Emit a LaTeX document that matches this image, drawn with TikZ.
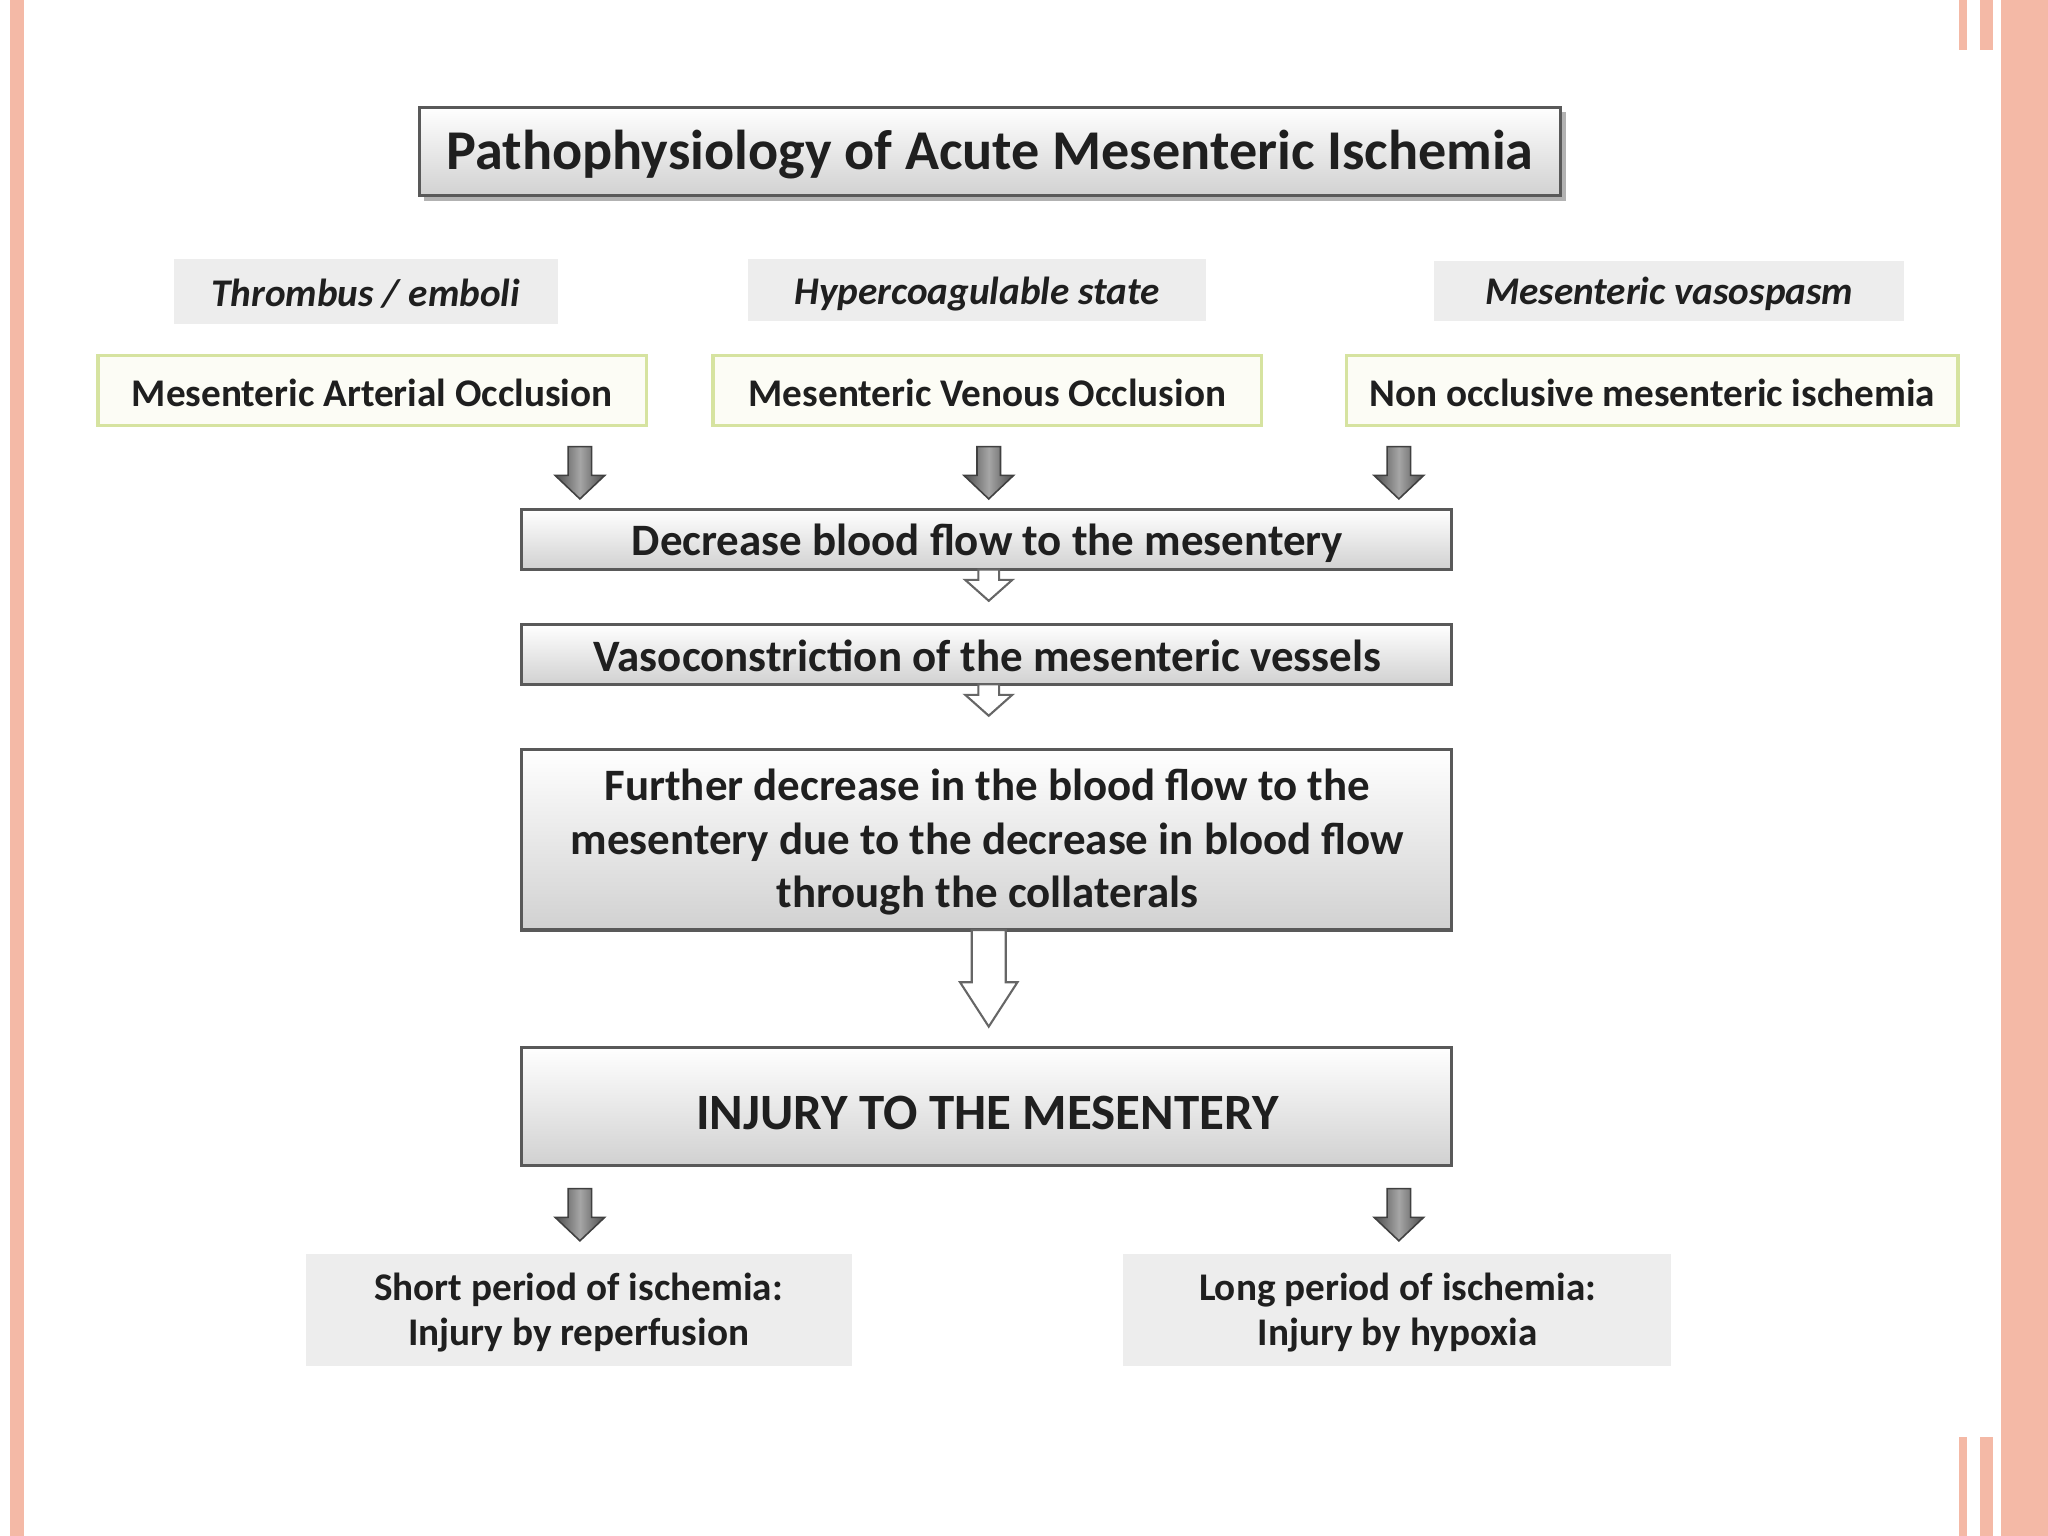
\documentclass[tikz,border=0pt]{standalone}
\usepackage{fontspec}
\setmainfont{Carlito}
\begin{document}
\begin{tikzpicture}[x=0.5pt,y=-0.5pt,
  gbox/.style={draw=black!65,line width=1.2pt,top color=white,bottom color=black!18},
  obox/.style={draw={rgb,255:red,214;green,227;blue,160},line width=1.3pt,fill={rgb,255:red,252;green,252;blue,245}},
  darr/.style={draw=black!75,line width=0.6pt,left color=black!70,right color=black!70,middle color=black!35},
  harr/.style={draw=black!60,line width=0.8pt,fill=white},
  txt/.style={font=\bfseries,text=black!88,align=center}]
\definecolor{salmon}{RGB}{244,185,166}
\useasboundingbox (0,0) rectangle (1568,1176);
\fill[white] (0,0) rectangle (1568,1176);
% borders
\fill[salmon] (8,0) rectangle (18,1176);
\fill[salmon] (1532,0) rectangle (1568,1176);
\fill[salmon] (1500,0) rectangle (1506,38);
\fill[salmon] (1516,0) rectangle (1526,38);
\fill[salmon] (1500,1100) rectangle (1506,1176);
\fill[salmon] (1516,1100) rectangle (1526,1176);
% title
\fill[black!30] (325,86) rectangle (1199,154);
\draw[gbox] (321,82) rectangle (1195,150);
\node[txt,font=\bfseries\fontsize{21.5}{24}\selectfont] (title) at (758,118) {Pathophysiology of Acute Mesenteric Ischemia};
% italic labels
\fill[black!7] (133,198) rectangle (427,248);
\node[txt,font=\bfseries\itshape\fontsize{15}{17}\selectfont] (t1) at (280,225) {Thrombus / emboli};
\fill[black!7] (573,198) rectangle (923,246);
\node[txt,font=\bfseries\itshape\fontsize{15}{17}\selectfont] (t2) at (748,225) {Hypercoagulable state};
\fill[black!7] (1098,200) rectangle (1458,246);
\node[txt,font=\bfseries\itshape\fontsize{15}{17}\selectfont] (t3) at (1278,225) {Mesenteric vasospasm};
% olive boxes
\draw[obox] (75,272) rectangle (495,326);
\node[txt,font=\bfseries\fontsize{15}{17}\selectfont] (o1) at (285,301) {Mesenteric Arterial Occlusion};
\draw[obox] (546,272) rectangle (966,326);
\node[txt,font=\bfseries\fontsize{15}{17}\selectfont] (o2) at (756,301) {Mesenteric Venous Occlusion};
\draw[obox] (1031,272) rectangle (1499,326);
\node[txt,font=\bfseries\fontsize{15}{17}\selectfont] (o3) at (1265,301) {Non occlusive mesenteric ischemia};
% dark arrows
\foreach \x/\y in {444/342,757/342,1071/342,444/910,1071/910}{
  \draw[darr] (\x-9,\y) -- (\x+9,\y) -- (\x+9,\y+22) -- (\x+19,\y+22) -- (\x,\y+40) -- (\x-19,\y+22) -- (\x-9,\y+22) -- cycle;}
% main boxes
\draw[gbox] (399,390) rectangle (1111,436);
\node[txt,font=\bfseries\fontsize{17.2}{19}\selectfont] (b1) at (756,416) {Decrease blood flow to the mesentery};
\draw[harr] (749,436) -- (765,436) -- (765,444) -- (775,444) -- (757,460) -- (739,444) -- (749,444) -- cycle;
\draw[gbox] (399,478) rectangle (1111,524);
\node[txt,font=\bfseries\fontsize{17.2}{19}\selectfont] (b2) at (756,502) {Vasoconstriction of the mesenteric vessels};
\draw[harr] (749,524) -- (765,524) -- (765,532) -- (775,532) -- (757,548) -- (739,532) -- (749,532) -- cycle;
\draw[gbox] (399,574) rectangle (1111,712);
\node[txt,font=\bfseries\fontsize{17.2}{20.5}\selectfont] (b3) at (756,645) {Further decrease in the blood flow to the\\mesentery due to the decrease in blood flow\\through the collaterals};
\draw[harr] (744,712) -- (770,712) -- (770,752) -- (779,752) -- (757,786) -- (735,752) -- (744,752) -- cycle;
\draw[gbox] (399,802) rectangle (1111,892);
\node[txt,font=\bfseries\fontsize{19.5}{21}\selectfont] (b4) at (756,852) {INJURY TO THE MESENTERY};
% bottom
\fill[black!7] (234,960) rectangle (652,1046);
\node[txt,font=\bfseries\fontsize{15}{17.5}\selectfont] (s1) at (443,1005) {Short period of ischemia:\\Injury by reperfusion};
\fill[black!7] (860,960) rectangle (1279,1046);
\node[txt,font=\bfseries\fontsize{15}{17.5}\selectfont] (s2) at (1070,1005) {Long period of ischemia:\\Injury by hypoxia};
\end{tikzpicture}
\end{document}
